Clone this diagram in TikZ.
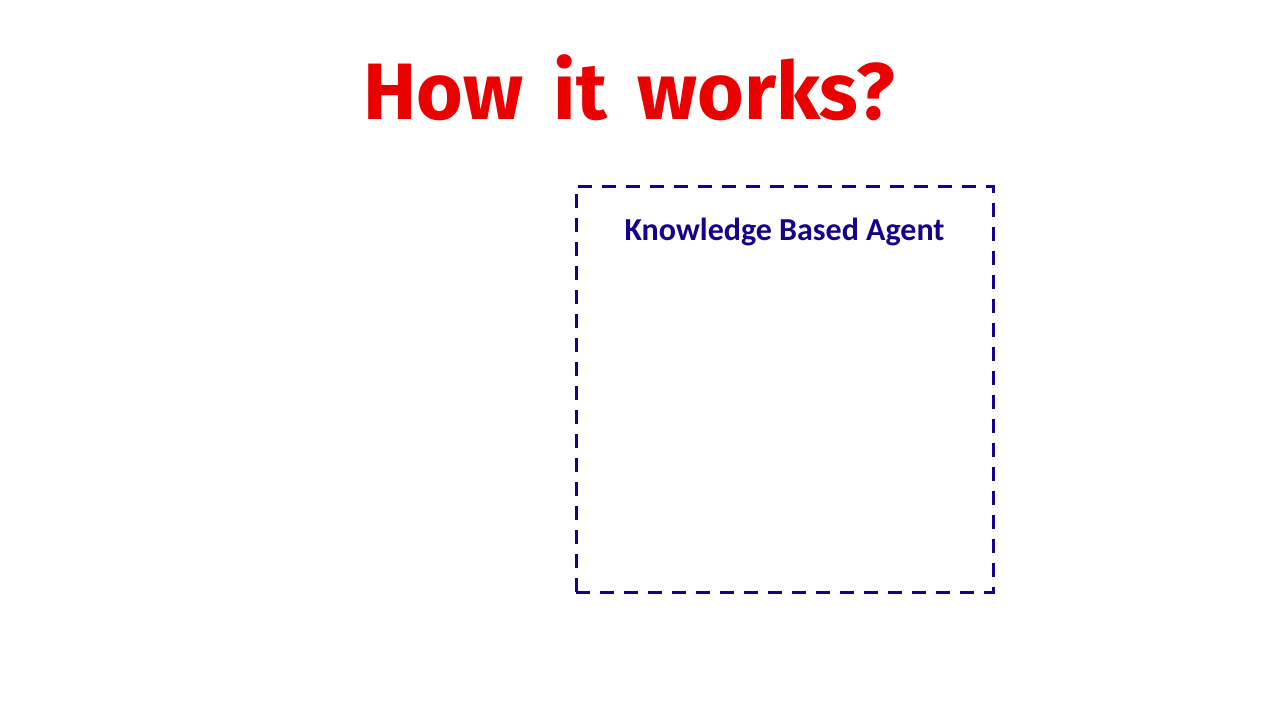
\documentclass[tikz,border=0pt]{standalone}
\usepackage{fontspec}
\setmainfont{Carlito}
\newfontfamily\titlefont[WordSpace={1.6}]{Fira Sans}
\usetikzlibrary{positioning}
\definecolor{titlered}{RGB}{235,0,0}
\definecolor{agentblue}{RGB}{25,0,140}

\begin{document}
\begin{tikzpicture}[x=1pt,y=-1pt,
    heading/.style={text=titlered, font=\titlefont\fontsize{80}{82}\selectfont\bfseries},
    agentbox/.style={draw=agentblue, line width=3pt, dash pattern=on 14pt off 10pt,
        minimum width=417pt, minimum height=406pt, inner sep=0pt},
    agentlabel/.style={text=agentblue, font=\fontsize{32}{34}\selectfont\bfseries}]
    \useasboundingbox (0,0) rectangle (1280,720);
    \node[heading, anchor=base](title) at (629,119){How it works?};
    \node[agentbox](agent) at (784.5,389){};
    \node[agentlabel, anchor=base](name) at ([yshift=-56pt]agent.north){Knowledge Based Agent};
\end{tikzpicture}
\end{document}
